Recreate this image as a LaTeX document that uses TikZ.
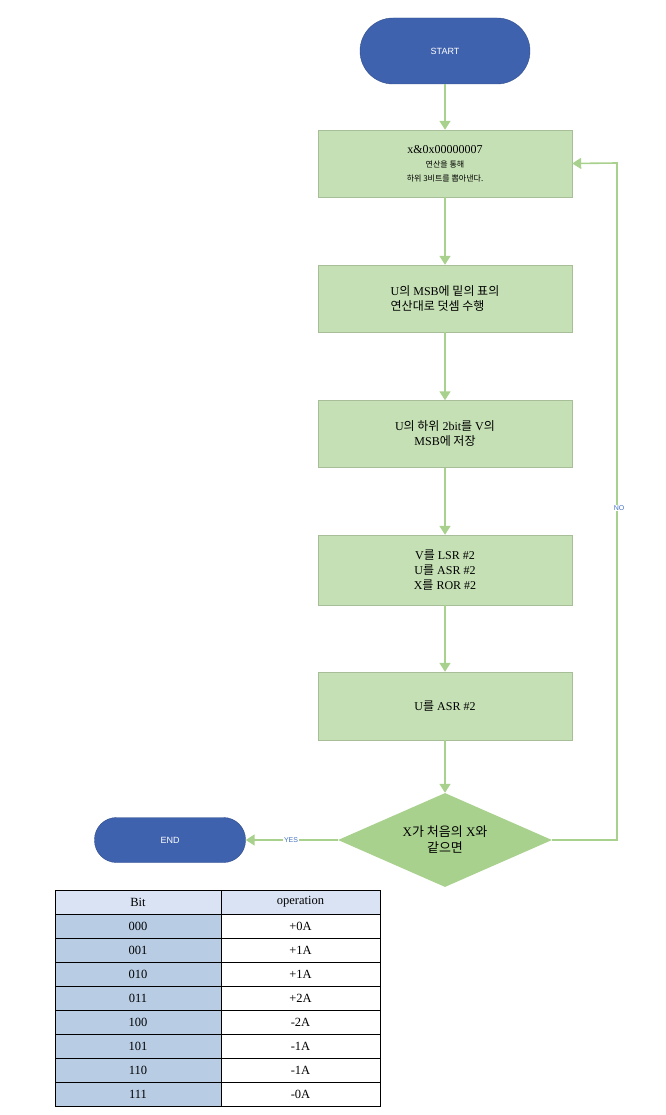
\documentclass[tikz,border=0pt]{standalone}
\usepackage{fontspec}
\setmainfont{Liberation Serif}
\setsansfont{Liberation Sans}
\newfontfamily\kr{Noto Sans CJK KR}
\usetikzlibrary{shapes.geometric,arrows.meta}
\definecolor{bluefill}{HTML}{3F62AE}
\definecolor{boxfill}{HTML}{C5E0B4}
\definecolor{linegreen}{HTML}{A9D18E}
\definecolor{hdr}{HTML}{DAE3F3}
\definecolor{colb}{HTML}{B8CCE4}
\definecolor{lblblue}{HTML}{4472C4}
\begin{document}
\begin{tikzpicture}[x=1pt,y=-1pt,
  term/.style={draw=bluefill!80!black,fill=bluefill,rounded corners=22pt,text=white,font=\sffamily\small,minimum width=#1,minimum height=45pt},
  proc/.style={draw=boxfill!85!black,fill=boxfill,minimum width=254pt,minimum height=67pt,align=center,font=\fontsize{12}{15}\selectfont},
  dec/.style={diamond,fill=linegreen,aspect=2.28,minimum width=214pt,minimum height=94pt,inner sep=0pt,align=center,font=\fontsize{13}{16}\selectfont},
  conn/.style={draw=linegreen,line width=1.6pt,-{Triangle[length=9pt,width=11pt]}},
  lbl/.style={text=lblblue,font=\sffamily\scriptsize,fill=white,inner sep=1pt},
  cell/.style={draw=black,line width=0.8pt,minimum height=24pt,font=\fontsize{12.5}{14}\selectfont,inner sep=0pt}]
\useasboundingbox (0,0) rectangle (665,1115);
\node[term=170pt,minimum height=66pt,rounded corners=33pt] (start) at (445,51) {START};
\node[proc] (b1) at (445,163.5) {x\&0x00000007\\[-1pt]{\kr\footnotesize 연산을 통해}\\[-1pt]{\kr\footnotesize 하위 3비트를 뽑아낸다.}};
\node[proc,align=left] (b2) at (445,298.5) {U{\kr 의} MSB{\kr 에 밑의 표의}\\{\kr 연산대로 덧셈 수행}};
\node[proc] (b3) at (445,434) {U{\kr 의 하위} 2bit{\kr 를} V{\kr 의}\\MSB{\kr 에 저장}};
\node[proc,minimum height=70pt] (b4) at (445,570) {V{\kr 를} LSR \#2\\U{\kr 를} ASR \#2\\X{\kr 를} ROR \#2};
\node[proc,minimum height=68pt] (b5) at (445,706) {U{\kr 를} ASR \#2};
\node[dec] (d) at (445,840) {X{\kr 가 처음의} X{\kr 와}\\{\kr 같으면}};
\node[term=151pt] (end) at (170,840) {END};
\draw[conn] (start) -- (b1);
\draw[conn] (b1) -- (b2);
\draw[conn] (b2) -- (b3);
\draw[conn] (b3) -- (b4);
\draw[conn] (b4) -- (b5);
\draw[conn] (b5) -- (d);
\draw[conn] (d.east) -- (617,840) -- (617,163) -- (b1.east);
\draw[conn] (d.west) -- (end.east);
\node[lbl] (no) at (619,508) {NO};
\node[lbl] (yes) at (291,840) {YES};
\foreach [count=\i from 0] \a/\b in {Bit/operation,000/+0A,001/+1A,010/+1A,011/+2A,100/-2A,101/-1A,110/-1A,111/-0A}{
  \pgfmathsetmacro{\yy}{902+24*\i}
  \ifnum\i=0
    \node[cell,fill=hdr,minimum width=166pt] (l\i) at (138,\yy) {\a};
    \node[cell,fill=hdr,minimum width=159pt] (r\i) at (300.5,\yy) {\b};
  \else
    \node[cell,fill=colb,minimum width=166pt] (l\i) at (138,\yy) {\a};
    \node[cell,fill=white,minimum width=159pt] (r\i) at (300.5,\yy) {\b};
  \fi
}
\end{tikzpicture}
\end{document}
